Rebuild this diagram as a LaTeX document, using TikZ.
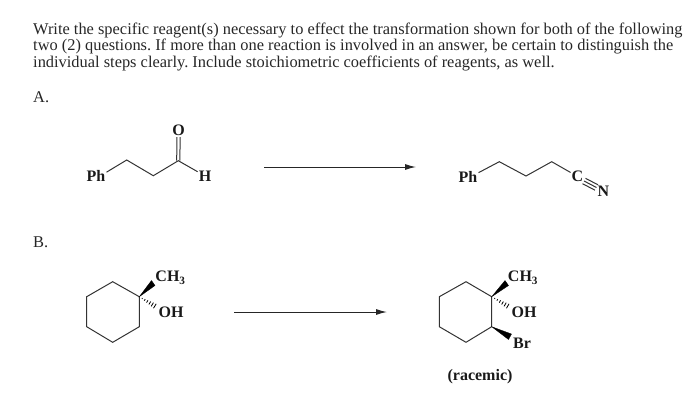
\documentclass[tikz,border=0pt]{standalone}
\usepackage{fontspec}
\setmainfont{Liberation Serif}
\usetikzlibrary{arrows.meta,calc}
\tikzset{
  body/.style={inner sep=0pt, anchor=base west, font=\fontsize{16.4}{16.5}\selectfont, text=black!85},
  atom/.style={inner sep=1pt, font=\fontsize{16}{16}\selectfont\bfseries, text=black!90},
  bond/.style={line width=1pt, black!80},
  wedge/.style={fill=black, draw=black, line width=0.3pt},
  hashline/.style={line width=0.8pt, black},
  rxn/.style={line width=1pt, black!85, -{Latex[length=11pt,width=6pt]}}
}
\newcommand{\hashbond}[2]{
  \foreach \t in {0.16,0.3,...,1.0} {
    \pgfmathsetmacro{\hw}{\t*3}
    \draw[hashline] ($(#1)!\t!(#2)!\hw pt!90:(#2)$) -- ($(#1)!\t!(#2)!\hw pt!-90:(#2)$);
  }
}
\begin{document}
\begin{tikzpicture}[x=1pt, y=-1pt]
  \useasboundingbox (0,0) rectangle (700,410);
  % question text
  \node[body] (line1) at (33,34) {Write the specific reagent(s) necessary to effect the transformation shown for both of the following};
  \node[body] (line2) at (33,50.5) {two (2) questions.\ If more than one reaction is involved in an answer, be certain to distinguish the};
  \node[body] (line3) at (33,67) {individual steps clearly.\ Include stoichiometric coefficients of reagents, as well.};
  \node[body] (labA) at (33,102) {A.};
  \node[body] (labB) at (33,247) {B.};
  % A, left
  \node[atom] (ph1) at (96,176) {Ph};
  \node[atom] (h1) at (205,176) {H};
  \node[atom] (o1) at (178.5,130.5) {O};
  \coordinate (a1) at (126.7,160);
  \coordinate (a2) at (153.3,175.7);
  \coordinate (a3) at (178.3,160.7);
  \draw[bond] (ph1.20) -- (a1) -- (a2) -- (a3) -- (h1.150);
  \draw[bond] ([xshift=-1.6pt]a3) -- ([xshift=-1.6pt]o1.south);
  \draw[bond] ([xshift=1.6pt]a3) -- ([xshift=1.6pt]o1.south);
  % A, arrow
  \coordinate (arA1) at (264,167);
  \coordinate (arA2) at (416,167);
  \draw[rxn] (arA1) -- (arA2);
  % A, right
  \node[atom] (ph2) at (468,176.5) {Ph};
  \node[atom] (c2) at (577.5,176.5) {C};
  \node[atom] (n2) at (603.5,191.5) {N};
  \coordinate (b1) at (499.3,161.7);
  \coordinate (b2) at (526,176);
  \coordinate (b3) at (551.7,161.7);
  \draw[bond] (ph2.20) -- (b1) -- (b2) -- (b3) -- (c2.150);
  \coordinate (t1) at (584,181);
  \coordinate (t2) at (596.5,187.5);
  \draw[bond] (t1) -- (t2);
  \draw[bond] ([shift={(1.5,-2.7)}]t1) -- ([shift={(1.5,-2.7)}]t2);
  \draw[bond] ([shift={(-1.5,2.7)}]t1) -- ([shift={(-1.5,2.7)}]t2);
  % B, left
  \coordinate (r1) at (139.3,296.7);
  \coordinate (r2) at (112.7,281.7);
  \coordinate (r3) at (86.7,296.7);
  \coordinate (r4) at (86.7,326.7);
  \coordinate (r5) at (112.7,342.3);
  \coordinate (r6) at (139.3,326.7);
  \draw[bond] (r1) -- (r2) -- (r3) -- (r4) -- (r5) -- (r6) -- cycle;
  \node[atom] (me1) at (170.5,277.5) {CH\textsubscript{3}};
  \node[atom] (oh1) at (171,312.5) {OH};
  \fill[wedge] (r1) -- (151.5,280.5) -- (155,285.5) -- cycle;
  \hashbond{r1}{oh1.160}
  % B, arrow
  \coordinate (arB1) at (234,312);
  \coordinate (arB2) at (387,312);
  \draw[rxn] (arB1) -- (arB2);
  % B, right
  \coordinate (s1) at (491.7,296.7);
  \coordinate (s2) at (466,281.7);
  \coordinate (s3) at (439.3,296.7);
  \coordinate (s4) at (439.3,326.7);
  \coordinate (s5) at (466,342.3);
  \coordinate (s6) at (491.7,326.7);
  \draw[bond] (s1) -- (s2) -- (s3) -- (s4) -- (s5) -- (s6) -- cycle;
  \node[atom] (me2) at (523,277.5) {CH\textsubscript{3}};
  \node[atom] (oh2) at (524,312.5) {OH};
  \node[atom] (br2) at (522,343.5) {Br};
  \fill[wedge] (s1) -- (505,280.5) -- (508.5,285.5) -- cycle;
  \hashbond{s1}{oh2.160}
  \fill[wedge] (s6) -- (511.5,334) -- (508.5,339.5) -- cycle;
  \node[atom] (rac) at (480,376.5) {(racemic)};
\end{tikzpicture}
\end{document}
